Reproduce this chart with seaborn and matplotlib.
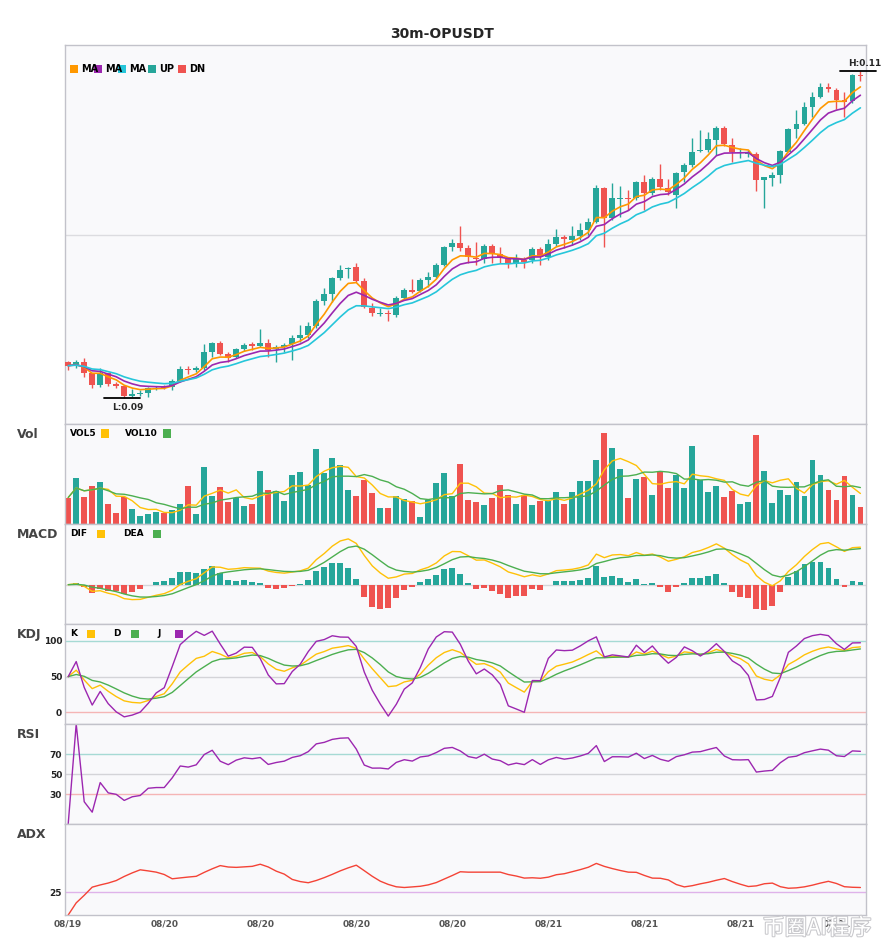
import numpy as np
import pandas as pd
import matplotlib
matplotlib.use("Agg")
import matplotlib.pyplot as plt
import matplotlib.patheffects as pe
from matplotlib.patches import Rectangle
import seaborn as sns

# ---- 30m OPUSDT candles (100 bars) ----
symbol = "OPUSDT"
interval = "30m"
start_time = "2023-08-19 20:00"

opens = [0.09214, 0.09191, 0.09214, 0.09146, 0.09074, 0.09146, 0.09080, 0.09068, 0.09008, 0.09020,
         0.09025, 0.09049, 0.09066, 0.09062, 0.09099, 0.09173, 0.09165, 0.09181, 0.09276, 0.09333,
         0.09264, 0.09249, 0.09294, 0.09325, 0.09317, 0.09331, 0.09296, 0.09307, 0.09325, 0.09366,
         0.09383, 0.09438, 0.09593, 0.09636, 0.09736, 0.09790, 0.09802, 0.09716, 0.09551, 0.09510,
         0.09520, 0.09506, 0.09611, 0.09660, 0.09654, 0.09722, 0.09743, 0.09815, 0.09928, 0.09951,
         0.09920, 0.09856, 0.09850, 0.09932, 0.09883, 0.09850, 0.09821, 0.09846, 0.09846, 0.09915,
         0.09866, 0.09944, 0.09990, 0.09969, 0.09994, 0.10031, 0.10082, 0.10290, 0.10103, 0.10224,
         0.10228, 0.10227, 0.10327, 0.10261, 0.10344, 0.10292, 0.10247, 0.10387, 0.10432, 0.10519,
         0.10525, 0.10586, 0.10662, 0.10556, 0.10508, 0.10502, 0.10500, 0.10341, 0.10354, 0.10370,
         0.10514, 0.10654, 0.10685, 0.10790, 0.10852, 0.10915, 0.10897, 0.10831, 0.10827, 0.10988]
highs = [0.09219, 0.09228, 0.09243, 0.09148, 0.09177, 0.09148, 0.09091, 0.09068, 0.09049, 0.09041,
         0.09064, 0.09066, 0.09074, 0.09111, 0.09191, 0.09193, 0.09189, 0.09327, 0.09338, 0.09346,
         0.09276, 0.09304, 0.09335, 0.09338, 0.09420, 0.09355, 0.09318, 0.09335, 0.09383, 0.09444,
         0.09465, 0.09605, 0.09671, 0.09741, 0.09815, 0.09804, 0.09825, 0.09733, 0.09578, 0.09547,
         0.09537, 0.09625, 0.09675, 0.09728, 0.09733, 0.09770, 0.09825, 0.09934, 0.09975, 0.10052,
         0.09938, 0.09959, 0.09944, 0.09944, 0.09928, 0.09866, 0.09881, 0.09866, 0.09924, 0.09924,
         0.09973, 0.10039, 0.10000, 0.10056, 0.10072, 0.10107, 0.10309, 0.10298, 0.10319, 0.10302,
         0.10278, 0.10335, 0.10370, 0.10356, 0.10438, 0.10346, 0.10387, 0.10443, 0.10597, 0.10648,
         0.10634, 0.10675, 0.10675, 0.10597, 0.10539, 0.10525, 0.10511, 0.10360, 0.10391, 0.10525,
         0.10662, 0.10772, 0.10823, 0.10885, 0.10936, 0.10936, 0.10909, 0.10885, 0.10994, 0.11009]
lows = [0.09167, 0.09181, 0.09125, 0.09057, 0.09064, 0.09070, 0.09054, 0.08996, 0.09002, 0.09008,
        0.09000, 0.09041, 0.09049, 0.09045, 0.09091, 0.09140, 0.09154, 0.09167, 0.09247, 0.09259,
        0.09214, 0.09239, 0.09284, 0.09290, 0.09310, 0.09247, 0.09216, 0.09278, 0.09228, 0.09341,
        0.09362, 0.09426, 0.09568, 0.09588, 0.09722, 0.09733, 0.09712, 0.09547, 0.09500, 0.09500,
        0.09471, 0.09496, 0.09605, 0.09640, 0.09650, 0.09681, 0.09733, 0.09810, 0.09901, 0.09901,
        0.09825, 0.09815, 0.09825, 0.09829, 0.09829, 0.09794, 0.09804, 0.09794, 0.09825, 0.09815,
        0.09846, 0.09932, 0.09918, 0.09938, 0.09969, 0.10000, 0.10072, 0.09928, 0.10093, 0.10113,
        0.10154, 0.10216, 0.10154, 0.10247, 0.10278, 0.10247, 0.10165, 0.10329, 0.10422, 0.10512,
        0.10511, 0.10494, 0.10551, 0.10453, 0.10477, 0.10483, 0.10272, 0.10169, 0.10304, 0.10323,
        0.10511, 0.10601, 0.10679, 0.10730, 0.10844, 0.10885, 0.10778, 0.10730, 0.10813, 0.10951]
closes = [0.09193, 0.09214, 0.09146, 0.09074, 0.09146, 0.09080, 0.09068, 0.09006, 0.09020, 0.09025,
          0.09054, 0.09057, 0.09057, 0.09099, 0.09171, 0.09165, 0.09181, 0.09276, 0.09333, 0.09267,
          0.09243, 0.09294, 0.09323, 0.09317, 0.09331, 0.09287, 0.09307, 0.09321, 0.09362, 0.09383,
          0.09438, 0.09593, 0.09636, 0.09736, 0.09784, 0.09798, 0.09716, 0.09557, 0.09519, 0.09520,
          0.09510, 0.09611, 0.09660, 0.09646, 0.09722, 0.09743, 0.09815, 0.09926, 0.09952, 0.09920,
          0.09866, 0.09850, 0.09932, 0.09883, 0.09866, 0.09821, 0.09850, 0.09835, 0.09915, 0.09866,
          0.09944, 0.09990, 0.09973, 0.09994, 0.10031, 0.10082, 0.10290, 0.10103, 0.10228, 0.10228,
          0.10224, 0.10329, 0.10261, 0.10344, 0.10293, 0.10267, 0.10381, 0.10432, 0.10511, 0.10525,
          0.10593, 0.10662, 0.10560, 0.10511, 0.10508, 0.10514, 0.10340, 0.10358, 0.10370, 0.10519,
          0.10654, 0.10685, 0.10790, 0.10852, 0.10914, 0.10901, 0.10833, 0.10823, 0.10988, 0.10983]
# volume in thousands
volumes = [26.3, 45.3, 27.3, 37.3, 41.7, 20.3, 11.3, 26.7, 15.3, 8.3,
           10.3, 12.3, 11.3, 14.3, 20.3, 37.3, 10.3, 56.3, 28.3, 36.3,
           22.3, 26.3, 18.3, 20.3, 52.3, 33.3, 32.3, 23.3, 48.3, 51.3,
           38.3, 74.3, 50.3, 65.3, 58.3, 33.3, 28.3, 43.3, 30.3, 16.3,
           16.3, 28.3, 25.3, 23.3, 7.3, 24.3, 40.3, 50.5, 28.3, 59.3,
           24.3, 22.3, 19.3, 26.3, 38.3, 29.3, 20.3, 29.3, 19.3, 23.3,
           23.3, 31.3, 20.3, 31.3, 42.3, 42.3, 63.3, 90.3, 75.3, 54.3,
           26.3, 44.3, 46.3, 29.3, 51.3, 35.3, 48.3, 35.3, 77.3, 43.3,
           31.3, 37.3, 27.3, 32.3, 20.3, 22.3, 88.3, 52.3, 21.3, 33.3,
           29.3, 41.3, 28.3, 63.3, 48.3, 33.3, 24.3, 47.3, 29.3, 17.3]

df = pd.DataFrame({"open": opens, "high": highs, "low": lows, "close": closes, "volume": volumes})
df["time"] = pd.date_range(start_time, periods=len(df), freq="30min")
idx = np.arange(len(df))

# ---- indicators ----
c = df["close"]
ma_fast = c.ewm(span=5, adjust=False).mean()
ma_mid = c.ewm(span=8, adjust=False).mean()
ma_slow = c.ewm(span=13, adjust=False).mean()

vol5 = df["volume"].rolling(5, min_periods=1).mean()
vol10 = df["volume"].rolling(10, min_periods=1).mean()

# fast MACD (6, 13, 5)
dif = c.ewm(span=6, adjust=False).mean() - c.ewm(span=13, adjust=False).mean()
dea = dif.ewm(span=5, adjust=False).mean()
macd_hist = 2 * (dif - dea)

low9 = df["low"].rolling(9, min_periods=1).min()
high9 = df["high"].rolling(9, min_periods=1).max()
rsv = (c - low9) / (high9 - low9) * 100
k = rsv.ewm(com=2, adjust=False).mean()
d = k.ewm(com=2, adjust=False).mean()
j = 3 * k - 2 * d

# Wilder RSI 14
delta = c.diff()
gain = delta.clip(lower=0).fillna(0).ewm(alpha=1 / 14, adjust=False).mean()
loss = (-delta.clip(upper=0)).fillna(0).ewm(alpha=1 / 14, adjust=False).mean()
rsi = (100 * gain / (gain + loss)).fillna(0)

prev_c = c.shift(1)
tr = pd.concat([df["high"] - df["low"], (df["high"] - prev_c).abs(), (df["low"] - prev_c).abs()], axis=1).max(axis=1)
up_move = df["high"].diff()
dn_move = -df["low"].diff()
pdm = pd.Series(np.where((up_move > dn_move) & (up_move > 0), up_move, 0.0))
mdm = pd.Series(np.where((dn_move > up_move) & (dn_move > 0), dn_move, 0.0))
atr = tr.ewm(span=14, adjust=False).mean()
pdi = 100 * pdm.ewm(span=14, adjust=False).mean() / atr
mdi = 100 * mdm.ewm(span=14, adjust=False).mean() / atr
dx = (100 * (pdi - mdi).abs() / (pdi + mdi)).fillna(0)
adx = dx.ewm(span=14, adjust=False).mean()

# ---- style ----
sns.set_theme(style="white")
plt.rcParams["font.family"] = ["DejaVu Sans"]

UP = "#26a69a"
DN = "#ef5350"
BG = "#f9f9fb"
EDGE = "#c2c2ca"
W, H = 885, 950

fig = plt.figure(figsize=(W / 100, H / 100), dpi=100)
fig.patch.set_facecolor("white")


def box(top, bottom):
    return [65 / W, 1 - bottom / H, 801 / W, (bottom - top) / H]


ax_main = fig.add_axes(box(45, 424))
ax_vol = fig.add_axes(box(424, 524), sharex=ax_main)
ax_macd = fig.add_axes(box(524, 624), sharex=ax_main)
ax_kdj = fig.add_axes(box(624, 724), sharex=ax_main)
ax_rsi = fig.add_axes(box(724, 824), sharex=ax_main)
ax_adx = fig.add_axes(box(824, 915), sharex=ax_main)
axes = [ax_main, ax_vol, ax_macd, ax_kdj, ax_rsi, ax_adx]

for ax in axes:
    ax.set_facecolor(BG)
    for s in ax.spines.values():
        s.set_color(EDGE)
        s.set_linewidth(1)
    ax.tick_params(axis="both", length=0, labelsize=6.5, pad=2)
    ax.tick_params(axis="x", labelbottom=False)

colors = np.where(df["close"] >= df["open"], UP, DN)

# candles + moving averages
ax_main.vlines(idx, df["low"], df["high"], colors=colors, lw=1, zorder=2)
body_lo = np.minimum(df["open"], df["close"])
body_h = np.maximum((df["close"] - df["open"]).abs(), 0.00006)
ax_main.bar(idx, body_h, bottom=body_lo, width=0.72, color=colors, lw=0, zorder=3)
for ser, col in [(ma_fast, "#ff9800"), (ma_mid, "#9c27b0"), (ma_slow, "#26c6da")]:
    sns.lineplot(x=idx, y=ser.values, ax=ax_main, color=col, lw=1.2, zorder=4)

rng = df["high"].max() - df["low"].min()
ax_main.set_ylim(df["low"].min() - 0.081 * rng, df["high"].max() + 0.081 * rng)
ax_main.set_yticks([0.10])
ax_main.yaxis.grid(True, color="#dcdce0", lw=1)
ax_main.tick_params(axis="y", labelleft=False)

lo_i = int(df["low"].idxmin())
hi_i = int(df["high"].idxmax())
for i_, val, txt, dy in [(lo_i, df["low"].min(), f"L:{df['low'].min():.2f}", -10),
                         (hi_i, df["high"].max(), f"H:{df['high'].max():.2f}", 8)]:
    ax_main.plot([i_ - 2.5, i_ + 2], [val, val], color="black", lw=1.3, clip_on=False, zorder=5)
    ax_main.annotate(txt, xy=(i_, val), xytext=(4, dy), textcoords="offset pixels",
                     ha="center", va="center", fontsize=6.5, fontweight="bold",
                     annotation_clip=False)

# volume
ax_vol.bar(idx, df["volume"], width=0.72, color=colors, lw=0)
sns.lineplot(x=idx, y=vol5.values, ax=ax_vol, color="#ffc107", lw=1)
sns.lineplot(x=idx, y=vol10.values, ax=ax_vol, color="#4caf50", lw=1)
ax_vol.set_ylim(0, df["volume"].max() * 1.1)
ax_vol.set_yticks([])

# macd
ax_macd.axhline(0, color="#d6d6da", lw=1, zorder=1)
ax_macd.bar(idx, macd_hist, width=0.72, color=np.where(macd_hist >= 0, UP, DN), lw=0)
sns.lineplot(x=idx, y=dif.values, ax=ax_macd, color="#ffc107", lw=1)
sns.lineplot(x=idx, y=dea.values, ax=ax_macd, color="#4caf50", lw=1)
m_lo = min(dif.min(), dea.min(), macd_hist.min())
m_hi = max(dif.max(), dea.max(), macd_hist.max())
ax_macd.set_ylim(m_lo - 0.2 * (m_hi - m_lo), m_hi + 0.21 * (m_hi - m_lo))
ax_macd.set_yticks([])

# kdj
for lvl, col in [(100, "#a6dad4"), (50, "#d4d4d8"), (0, "#f5b5b5")]:
    ax_kdj.axhline(lvl, color=col, lw=1, zorder=1)
sns.lineplot(x=idx, y=k.values, ax=ax_kdj, color="#ffc107", lw=1)
sns.lineplot(x=idx, y=d.values, ax=ax_kdj, color="#4caf50", lw=1)
sns.lineplot(x=idx, y=j.values, ax=ax_kdj, color="#9c27b0", lw=1)
ax_kdj.set_ylim(j.min() - 10, j.max() + 10)
ax_kdj.set_yticks([0, 50, 100])

# rsi
for lvl, col in [(70, "#a6dad4"), (50, "#d4d4d8"), (30, "#f5b5b5")]:
    ax_rsi.axhline(lvl, color=col, lw=1, zorder=1)
sns.lineplot(x=idx, y=rsi.values, ax=ax_rsi, color="#9c27b0", lw=1)
ax_rsi.set_ylim(0, 100)
ax_rsi.set_yticks([30, 50, 70])

# adx
ax_adx.axhline(25, color="#dfb3ea", lw=1, zorder=1)
sns.lineplot(x=idx, y=adx.values, ax=ax_adx, color="#f44336", lw=1)
ax_adx.set_ylim(0, 100)
ax_adx.set_yticks([25])

for ax in [ax_kdj, ax_rsi, ax_adx]:
    for lab in ax.get_yticklabels():
        lab.set_fontweight("bold")
        lab.set_color("#222222")

ax_main.set_xlim(-0.4, len(df) - 0.3)
ax_adx.set_xticks(idx[::12])
ax_adx.set_xticklabels(df["time"].dt.strftime("%m/%d").iloc[::12], fontsize=6.5,
                       fontweight="bold", color="#555555")
ax_adx.tick_params(axis="x", labelbottom=True, pad=3)


# ---- figure text / legends (pixel positions) ----
def fx(px):
    return px / W


def fy(py):
    return 1 - py / H


def square(x, y, col, w=8, h=8):
    fig.add_artist(Rectangle((fx(x), fy(y + h / 2)), w / W, h / H, transform=fig.transFigure,
                             color=col, lw=0))


def label(x, y, s, size=6.5, color="black"):
    fig.text(fx(x), fy(y), s, fontsize=size, fontweight="bold", color=color, va="center", ha="left")


fig.text(fx(442), fy(34), f"{interval}-{symbol}", ha="center", va="center", fontsize=10, fontweight="bold")

# main legend: square then text (later squares sit over earlier text)
for x0, col, s in [(70, "#ff9800", "MA"), (94, "#9c27b0", "MA"), (118, "#26c6da", "MA"),
                   (148, UP, "UP"), (178, DN, "DN")]:
    label(x0 + 11, 69, s, size=7)
    square(x0, 69, col)

for name, top in [("Vol", 424), ("MACD", 524), ("KDJ", 624), ("RSI", 724), ("ADX", 824)]:
    label(17, top + 10.5, name, size=9, color="#444444")

for items, yc in [([("VOL5", 70, 101, "#ffc107"), ("VOL10", 125, 163, "#4caf50")], 433.5),
                  ([("DIF", 70, 97, "#ffc107"), ("DEA", 123, 153, "#4caf50")], 533.7),
                  ([("K", 70, 87, "#ffc107"), ("D", 113, 131, "#4caf50"), ("J", 157, 175, "#9c27b0")], 633.5)]:
    for s, tx, sx, col in items:
        label(tx, yc, s)
        square(sx, yc, col)

fig.text(fx(817), fy(928), "币圈AI程序", ha="center", va="center", fontsize=16,
         family=["Noto Sans CJK SC", "DejaVu Sans"], color="white",
         path_effects=[pe.withStroke(linewidth=1.5, foreground="#c8c8cc")])

fig.savefig("out.png", dpi=100, facecolor="white")
